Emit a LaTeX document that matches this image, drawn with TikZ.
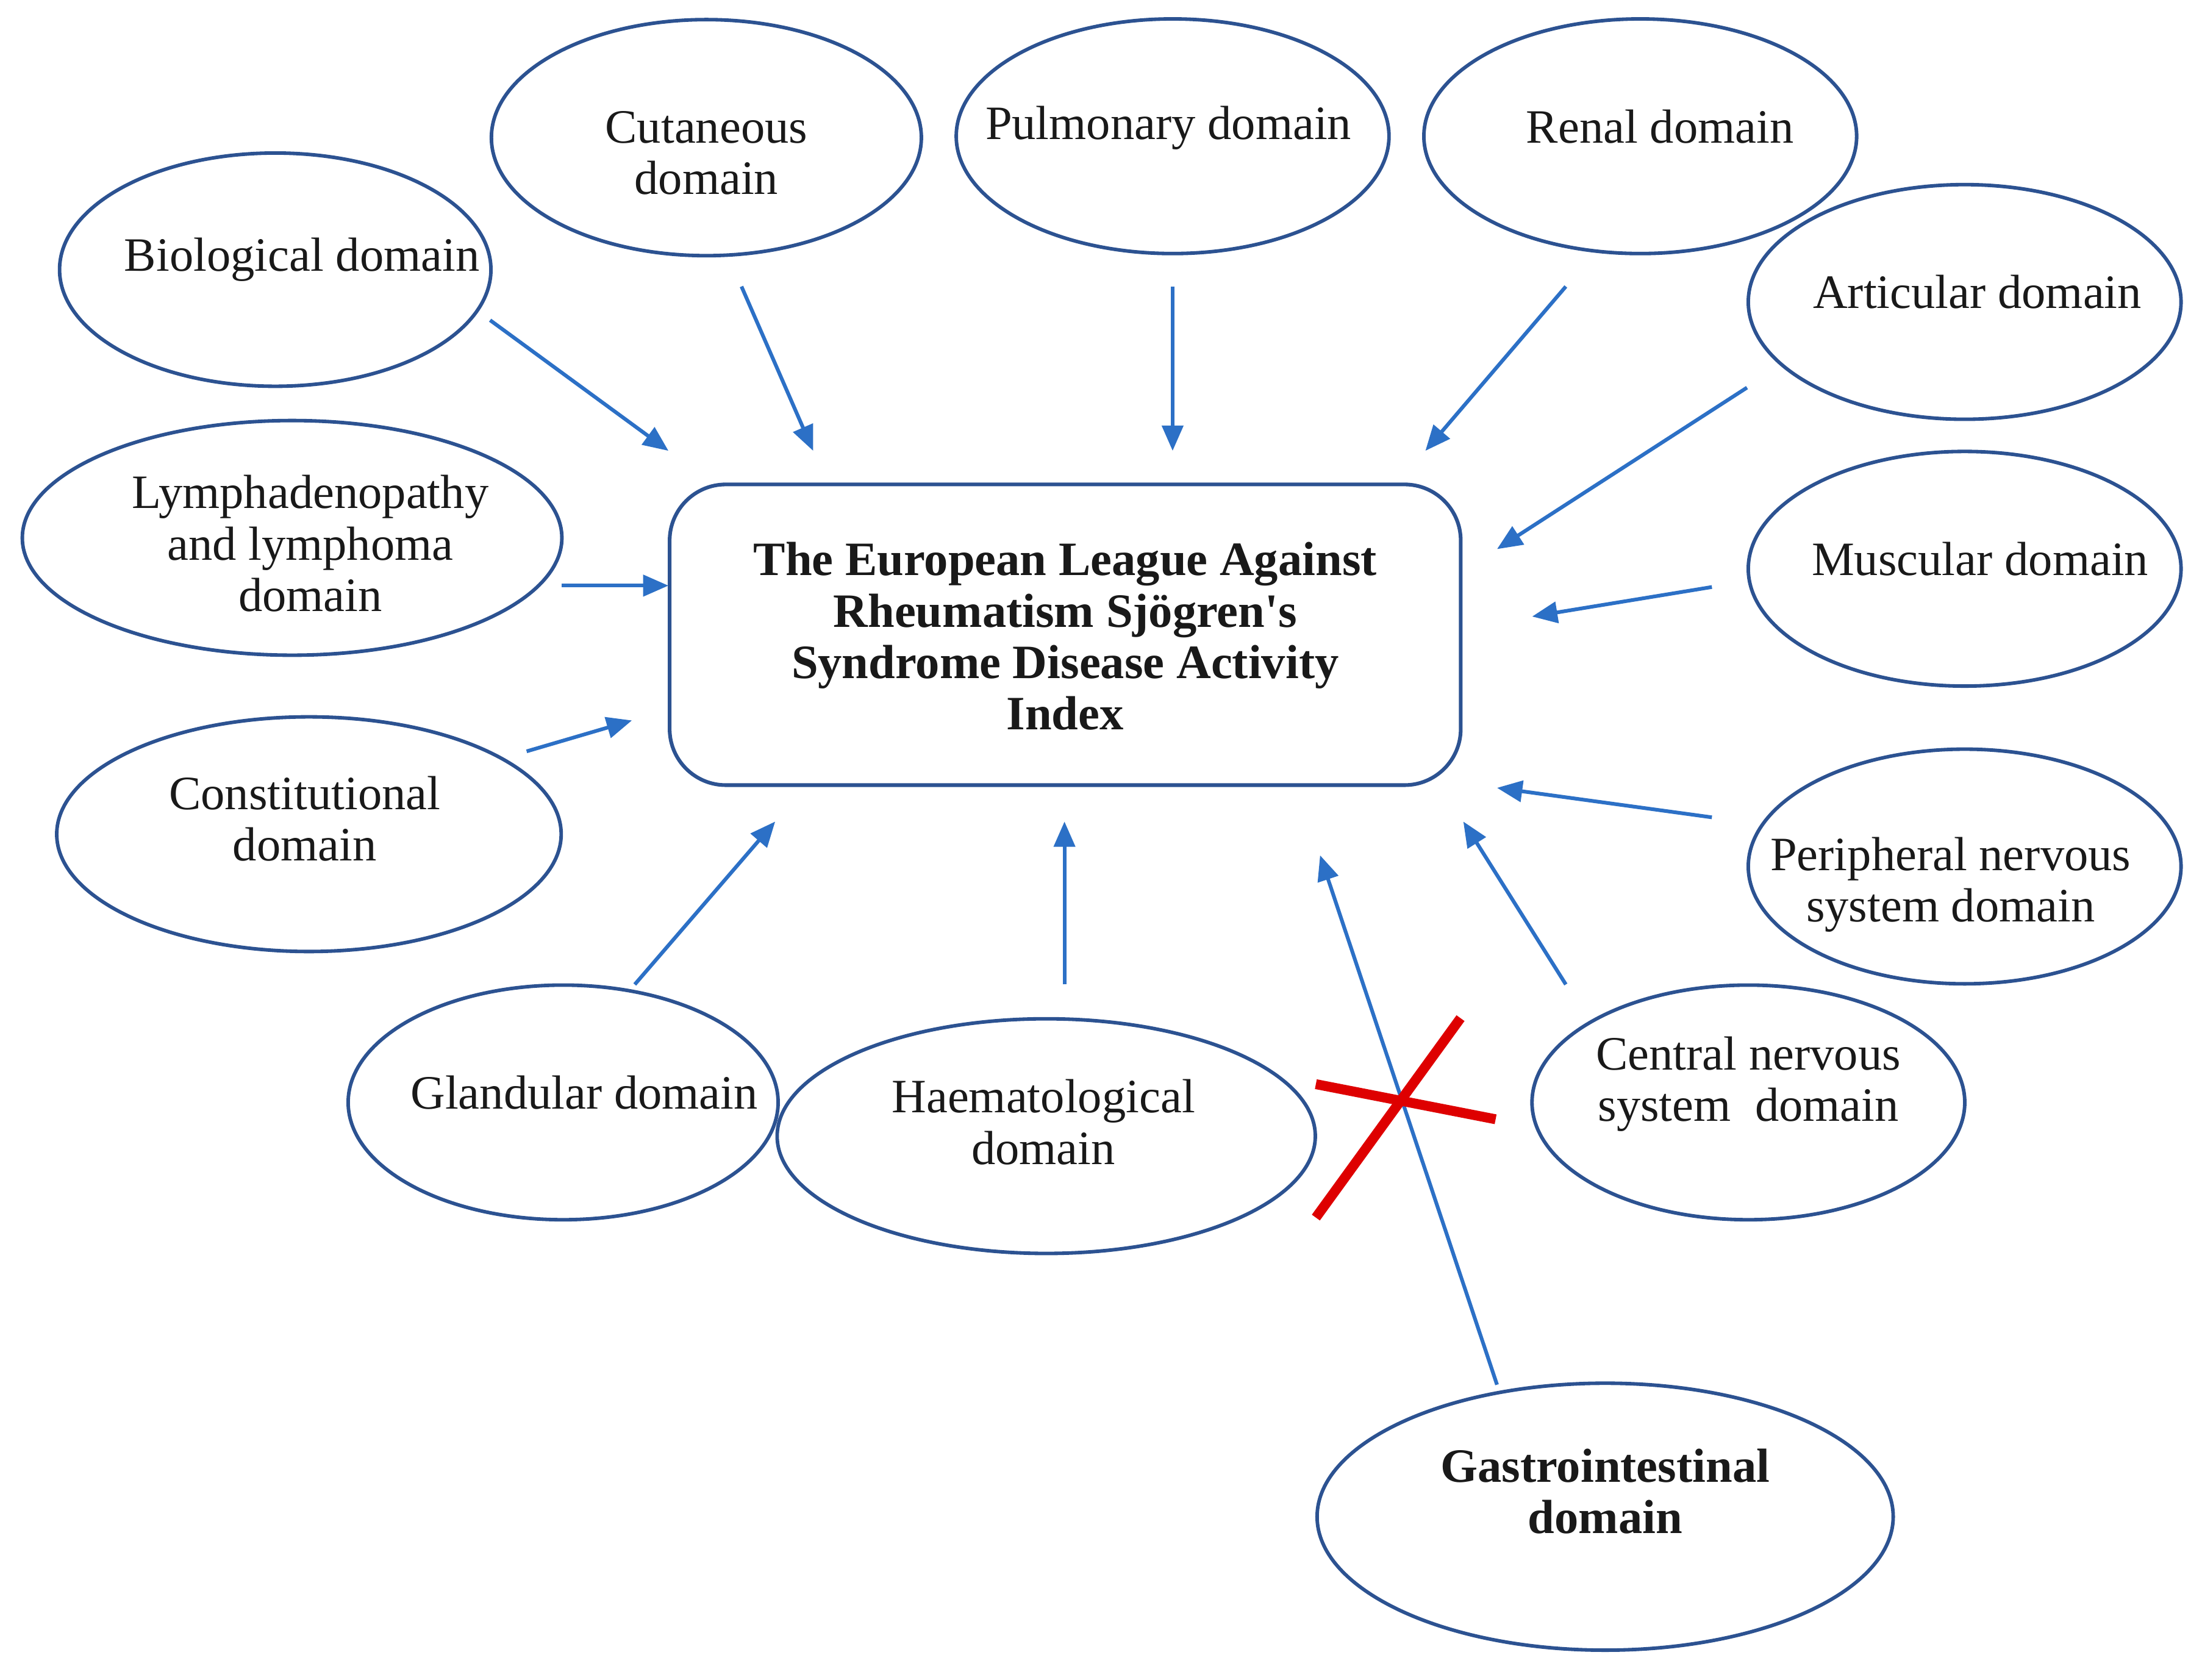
\documentclass[tikz,border=0pt]{standalone}
\usepackage{fontspec}
\setmainfont{Liberation Serif}[Ligatures=TeXOff]
\usetikzlibrary{shapes.geometric,arrows.meta}
\definecolor{ebl}{RGB}{44,82,145}
\definecolor{abl}{RGB}{44,112,198}
\definecolor{xred}{RGB}{222,0,0}
\definecolor{tx}{RGB}{25,25,25}
\begin{document}
\begin{tikzpicture}[x=0.01cm,y=-0.01cm,
  dom/.style={ellipse, draw=ebl, line width=0.72pt, inner sep=0pt, minimum width=3.08cm, minimum height=1.67cm},
  txt/.style={font=\fontsize{9.7pt}{10.4pt}\selectfont, align=center, inner sep=0pt, text=tx},
  box/.style={draw=ebl, line width=0.75pt, rounded corners=0.4cm, minimum width=5.63cm, minimum height=2.14cm, inner sep=0pt},
  arr/.style={draw=abl, line width=0.75pt, -{Triangle[length=0.18cm,width=0.15cm]}},
  cross/.style={draw=xred, line width=2pt}]
\fill[white] (0,0) rectangle (1568,1196);
% central box
\node[box] (idx) at (758.5,452) {};
\node[txt, font=\fontsize{9.7pt}{10.4pt}\selectfont\bfseries] (idx-t) at (758.5,453) {The European League Against\\Rheumatism Sjögren's\\Syndrome Disease Activity\\Index};
% domains
\node[dom, minimum width=3.06cm, minimum height=1.68cm] (cut) at (503,98) {};
\node[txt] (cut-t) at (503,109) {Cutaneous\\domain};
\node[dom] (pul) at (835,97) {};
\node[txt] (pul-t) at (832,91) {Pulmonary domain};
\node[dom] (ren) at (1168,97) {};
\node[txt] (ren-t) at (1182,90) {Renal domain};
\node[dom, minimum width=3.07cm, minimum height=1.66cm] (bio) at (196,192) {};
\node[txt] (bio-t) at (215,185) {Biological domain};
\node[dom] (art) at (1399,215) {};
\node[txt] (art-t) at (1408,208) {Articular domain};
\node[dom, minimum width=3.84cm] (lym) at (208,383) {};
\node[txt] (lym-t) at (221,387) {Lymphadenopathy\\and lymphoma\\domain};
\node[dom] (mus) at (1399,405) {};
\node[txt] (mus-t) at (1410,398) {Muscular domain};
\node[dom, minimum width=3.59cm] (con) at (220,594) {};
\node[txt] (con-t) at (217,583) {Constitutional\\domain};
\node[dom] (per) at (1399,617) {};
\node[txt] (per-t) at (1389,630) {Peripheral nervous\\system domain};
\node[dom, minimum width=3.06cm] (gla) at (401,785) {};
\node[txt] (gla-t) at (416,778) {Glandular domain};
\node[dom, minimum width=3.83cm] (hae) at (745,809) {};
\node[txt] (hae-t) at (743,799) {Haematological\\domain};
\node[dom] (cns) at (1245,785) {};
\node[txt] (cns-t) at (1245,772) {Central nervous\\system\ \ domain};
\node[dom, minimum width=4.10cm, minimum height=1.90cm] (gas) at (1143,1080) {};
\node[txt, font=\fontsize{9.7pt}{10.4pt}\selectfont\bfseries] (gas-t) at (1143,1062) {Gastrointestinal\\domain};
% arrow end points
\coordinate (a1s) at (349,228);  \coordinate (a1e) at (476,321);
\coordinate (a2s) at (528,204);  \coordinate (a2e) at (579,321);
\coordinate (a3s) at (835,204);  \coordinate (a3e) at (835,321);
\coordinate (a4s) at (1115,204); \coordinate (a4e) at (1015,321);
\coordinate (a5s) at (1244,276); \coordinate (a5e) at (1066,391);
\coordinate (a6s) at (1219,418); \coordinate (a6e) at (1091,439);
\coordinate (a7s) at (1219,582); \coordinate (a7e) at (1066,561);
\coordinate (a8s) at (1115,701); \coordinate (a8e) at (1042,585);
\coordinate (a9s) at (1066,986); \coordinate (a9e) at (940,609);
\coordinate (a10s) at (758,701); \coordinate (a10e) at (758,585);
\coordinate (a11s) at (452,701); \coordinate (a11e) at (552,585);
\coordinate (a12s) at (375,535); \coordinate (a12e) at (450,513);
\coordinate (a13s) at (400,417); \coordinate (a13e) at (476,417);
\foreach \i in {1,...,13} {\draw[arr] (a\i s) -- (a\i e);}
% red cross
\coordinate (x1a) at (1040,725); \coordinate (x1b) at (937,867);
\coordinate (x2a) at (937,772);  \coordinate (x2b) at (1065,797);
\draw[cross] (x1a) -- (x1b);
\draw[cross] (x2a) -- (x2b);
\end{tikzpicture}
\end{document}
